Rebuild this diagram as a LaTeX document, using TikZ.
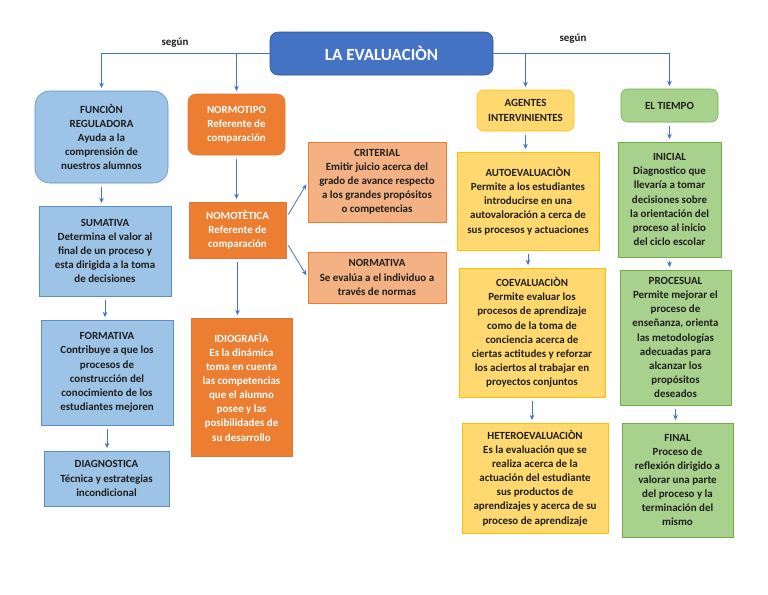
\documentclass[tikz,border=0pt]{standalone}
\usepackage{fontspec}
\setmainfont{Carlito}
\usepackage{tikz}
\usetikzlibrary{positioning, arrows.meta}
\definecolor{TitleColor}{RGB}{68,114,196}
\definecolor{TitleLine}{RGB}{47,82,143}
\definecolor{BlueColor}{RGB}{157,195,230}
\definecolor{BlueLine}{RGB}{91,142,200}
\definecolor{OrangeColor}{RGB}{237,125,49}
\definecolor{OrangeLine}{RGB}{222,120,60}
\definecolor{SalmonColor}{RGB}{244,177,131}
\definecolor{YellowColor}{RGB}{255,217,112}
\definecolor{YellowLine}{RGB}{255,192,0}
\definecolor{GreenColor}{RGB}{169,209,142}
\definecolor{GreenLine}{RGB}{112,173,71}
\definecolor{ArrowColor}{RGB}{68,114,196}
\definecolor{TextColor}{RGB}{30,30,30}
\tikzstyle{arrow} = [semithick, ArrowColor, -{Stealth[length=4pt,width=3.5pt]}, shorten >=2pt, shorten <=3pt]
\tikzstyle{box} = [rectangle, draw, align=center, inner sep=2pt, text=TextColor, font=\bfseries\fontsize{8.2}{10.6}\selectfont]
\tikzstyle{bluebox} = [box, fill=BlueColor, draw=BlueLine]
\tikzstyle{orangebox} = [box, fill=OrangeColor, draw=OrangeLine, text=white]
\tikzstyle{salmonbox} = [box, fill=SalmonColor, draw=OrangeColor]
\tikzstyle{yellowbox} = [box, fill=YellowColor, draw=YellowLine]
\tikzstyle{greenbox} = [box, fill=GreenColor, draw=GreenLine]

\begin{document}
\begin{tikzpicture}[x=0.75pt, y=-0.75pt]
    \useasboundingbox (0,0) rectangle (768,594);

    % Title
    \node[rectangle, draw=TitleLine, fill=TitleColor, rounded corners=6pt, text=white, font=\bfseries\fontsize{12.8}{14}\selectfont, minimum width=167.25pt, minimum height=32.25pt] (title) at (381.5,53.5) {LA EVALUACIÒN};

    % Left branches
    \node[bluebox, rounded corners=11pt, minimum width=99.75pt, minimum height=69pt] (funcion) at (101.5,137) {FUNCIÒN\\REGULADORA\\Ayuda a la\\comprensión de\\nuestros alumnos};
    \node[orangebox, rounded corners=6pt, minimum width=72.75pt, minimum height=45.75pt] (normotipo) at (236.5,124.5) {NORMOTIPO\\Referente de\\comparación};

    % Blue column
    \node[bluebox, minimum width=99pt, minimum height=67.5pt] (sumativa) at (105,251) {SUMATIVA\\Determina el valor al\\final de un proceso y\\esta dirigida a la toma\\de decisiones};
    \node[bluebox, minimum width=99pt, minimum height=78.75pt] (formativa) at (107,372.5) {FORMATIVA\\Contribuye a que los\\procesos de\\construcción del\\conocimiento de los\\estudiantes mejoren};
    \node[bluebox, minimum width=93.75pt, minimum height=41.25pt] (diagnostica) at (106.5,478.5) {DIAGNOSTICA\\Técnica y estrategias\\incondicional};

    % Orange column
    \node[orangebox, minimum width=72.75pt, minimum height=42pt] (nomotetica) at (237.5,230) {NOMOTÈTICA\\Referente de\\comparación};
    \node[orangebox, minimum width=75.75pt, minimum height=103.5pt] (idiografia) at (241.5,387) {IDIOGRAFÌA\\Es la dinámica\\toma en cuenta\\las competencias\\que el alumno\\posee y las\\posibilidades de\\su desarrollo};
    \node[salmonbox, minimum width=103.5pt, minimum height=60pt] (criterial) at (377,182) {CRITERIAL\\Emitir juicio acerca del\\grado de avance respecto\\a los grandes propósitos\\o competencias};
    \node[salmonbox, minimum width=103.5pt, minimum height=38.25pt] (normativa) at (377,277.5) {NORMATIVA\\Se evalúa a el individuo a\\través de normas};

    % Yellow column
    \node[yellowbox, rounded corners=5pt, minimum width=72.75pt, minimum height=30.75pt] (agentes) at (525.5,110.5) {AGENTES\\INTERVINIENTES};
    \node[yellowbox, minimum width=106.5pt, minimum height=73.5pt] (autoeval) at (528,201) {AUTOEVALUACIÒN\\Permite a los estudiantes\\introducirse en una\\autovaloración a cerca de\\sus procesos y actuaciones};
    \node[yellowbox, minimum width=109.5pt, minimum height=96.75pt] (coeval) at (532,332.5) {COEVALUACIÒN\\Permite evaluar los\\procesos de aprendizaje\\como de la toma de\\conciencia acerca de\\ciertas actitudes y reforzar\\los aciertos al trabajar en\\proyectos conjuntos};
    \node[yellowbox, minimum width=109.5pt, minimum height=82.5pt] (heteroeval) at (535,478) {HETEROEVALUACIÒN\\Es la evaluación que se\\realiza acerca de la\\actuación del estudiante\\sus productos de\\aprendizajes y acerca de su\\proceso de aprendizaje};

    % Green column
    \node[greenbox, rounded corners=5pt, minimum width=72.75pt, minimum height=24.75pt] (tiempo) at (669.5,105.5) {EL TIEMPO};
    \node[greenbox, minimum width=77.25pt, minimum height=86.25pt] (inicial) at (669.5,199.5) {INICIAL\\Diagnostico que\\llevaría a tomar\\decisiones sobre\\la orientación del\\proceso al inicio\\del ciclo escolar};
    \node[greenbox, minimum width=83.25pt, minimum height=101.25pt] (procesual) at (675.5,337.5) {PROCESUAL\\Permite mejorar el\\proceso de\\enseñanza, orienta\\las metodologías\\adecuadas para\\alcanzar los\\propósitos\\deseados};
    \node[greenbox, minimum width=83.25pt, minimum height=85.5pt] (final) at (677.5,480) {FINAL\\Proceso de\\reflexión dirigido a\\valorar una parte\\del proceso y la\\terminación del\\mismo};

    % Arrows from the title
    \draw[arrow, shorten <=0pt] (title.west) -| (funcion.north);
    \draw[arrow, shorten <=0pt] (title.west -| normotipo.north) -- (normotipo.north);
    \draw[arrow, shorten <=0pt] (title.east) -| (tiempo.north);
    \draw[arrow, shorten <=0pt] (title.east -| agentes.north) -- (agentes.north);
    \node[font=\bfseries\fontsize{8.2}{9}\selectfont, text=TextColor] (segun1) at (175,43) {según};
    \node[font=\bfseries\fontsize{8.2}{9}\selectfont, text=TextColor] (segun2) at (573,39) {según};

    % Arrows inside the columns
    \draw[arrow] (funcion.south) -- (funcion.south |- sumativa.north);
    \draw[arrow] (sumativa.south) -- (sumativa.south |- formativa.north);
    \draw[arrow] (formativa.south) -- (formativa.south |- diagnostica.north);
    \draw[arrow] (normotipo.south) -- (normotipo.south |- nomotetica.north);
    \draw[arrow] (nomotetica.south) -- (nomotetica.south |- idiografia.north);
    \draw[arrow] ([yshift=9pt]nomotetica.east) -- (criterial.west);
    \draw[arrow] ([yshift=-9pt]nomotetica.east) -- (normativa.west);
    \draw[arrow] (agentes.south) -- (agentes.south |- autoeval.north);
    \draw[arrow] (autoeval.south) -- (autoeval.south |- coeval.north);
    \draw[arrow] (coeval.south) -- (coeval.south |- heteroeval.north);
    \draw[arrow] (tiempo.south) -- (tiempo.south |- inicial.north);
    \draw[arrow] (inicial.south) -- (inicial.south |- procesual.north);
    \draw[arrow] (procesual.south) -- (procesual.south |- final.north);
\end{tikzpicture}
\end{document}
